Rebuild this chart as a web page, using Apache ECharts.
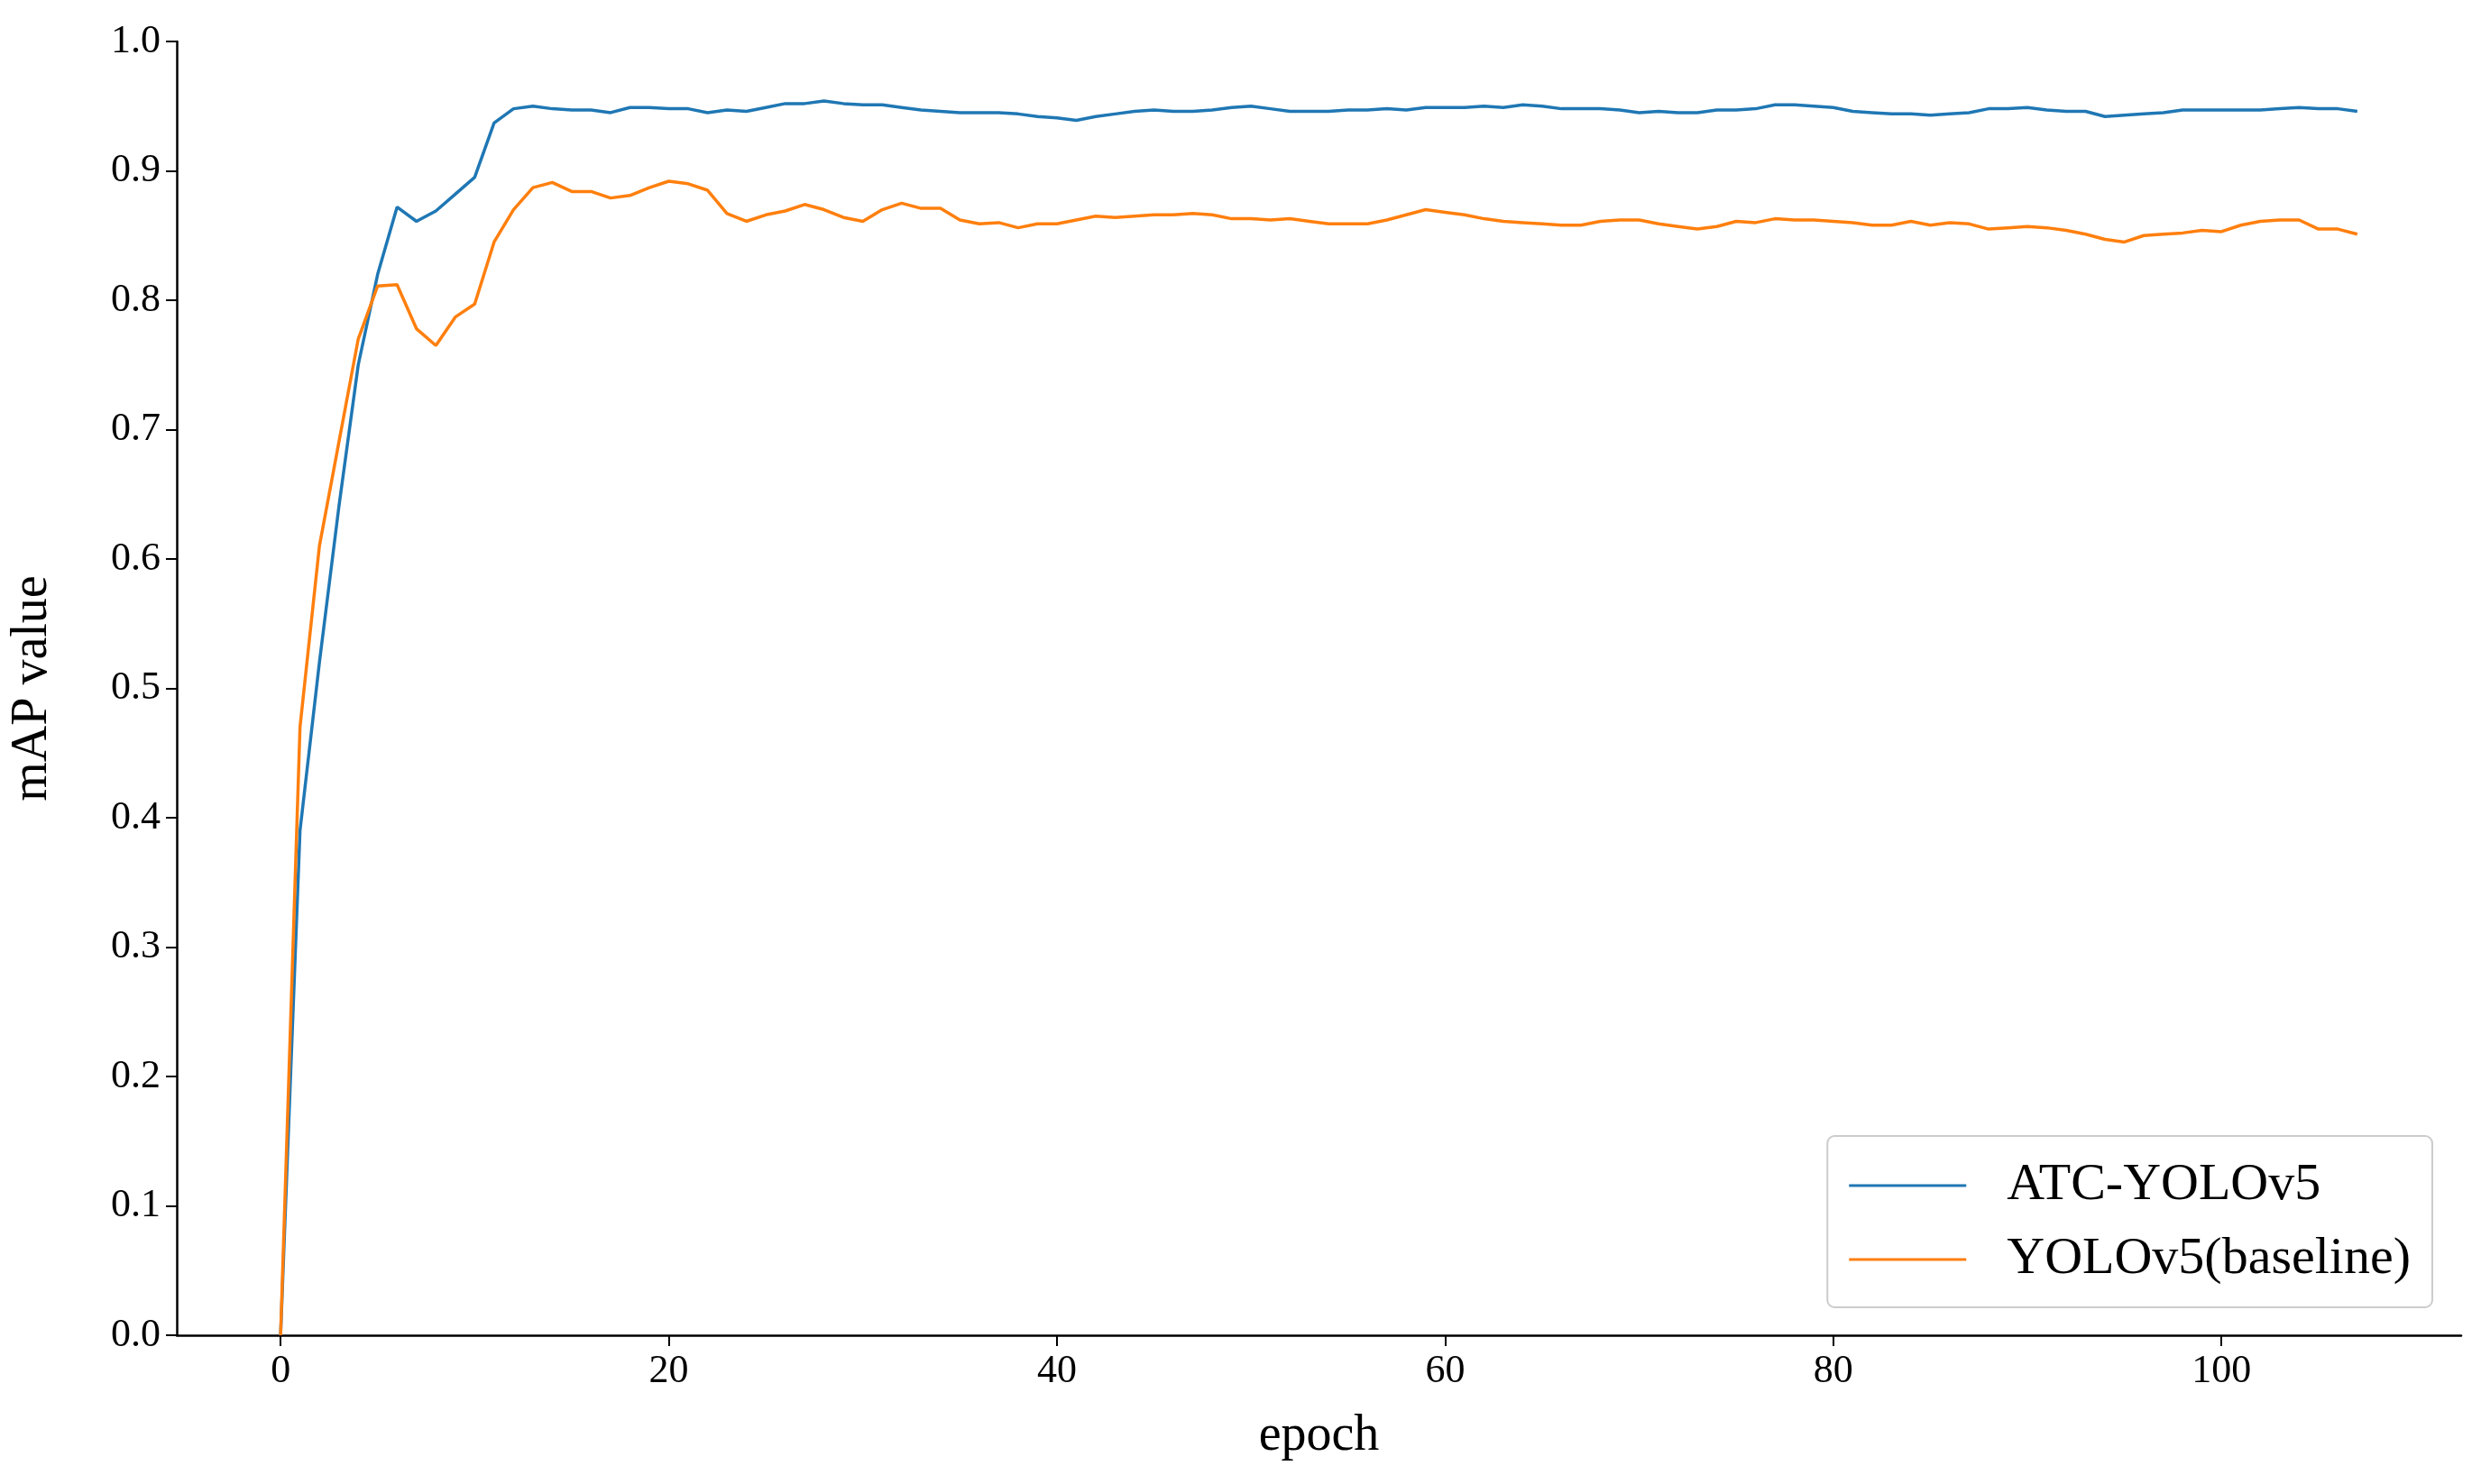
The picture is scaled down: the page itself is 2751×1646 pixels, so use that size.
<!DOCTYPE html>
<html><head><meta charset="utf-8">
<script src="https://cdn.jsdelivr.net/npm/echarts@6/dist/echarts.min.js"></script>
<style>html,body{margin:0;padding:0;background:#fff}#c{width:2751px;height:1646px}</style>
</head><body><div id="c"></div>
<script>
const epochs = Array.from({length:108},(_, i)=>i);
const atcYolo = [0,0.39,0.52,0.64,0.75,0.82,0.872,0.861,0.869,0.882,0.895,0.937,0.948,0.950,0.948,0.947,0.947,0.945,0.949,0.949,0.948,0.948,0.945,0.947,0.946,0.949,0.952,0.952,0.954,0.952,0.951,0.951,0.949,0.947,0.946,0.945,0.945,0.945,0.944,0.942,0.941,0.939,0.942,0.944,0.946,0.947,0.946,0.946,0.947,0.949,0.950,0.948,0.946,0.946,0.946,0.947,0.947,0.948,0.947,0.949,0.949,0.949,0.950,0.949,0.951,0.950,0.948,0.948,0.948,0.947,0.945,0.946,0.945,0.945,0.947,0.947,0.948,0.951,0.951,0.950,0.949,0.946,0.945,0.944,0.944,0.943,0.944,0.945,0.948,0.948,0.949,0.947,0.946,0.946,0.942,0.943,0.944,0.945,0.947,0.947,0.947,0.947,0.947,0.948,0.949,0.948,0.948,0.946];
const baseline = [0,0.47,0.61,0.69,0.77,0.811,0.812,0.778,0.765,0.787,0.797,0.845,0.870,0.887,0.891,0.884,0.884,0.879,0.881,0.887,0.892,0.890,0.885,0.867,0.861,0.866,0.869,0.874,0.870,0.864,0.861,0.870,0.875,0.871,0.871,0.862,0.859,0.860,0.856,0.859,0.859,0.862,0.865,0.864,0.865,0.866,0.866,0.867,0.866,0.863,0.863,0.862,0.863,0.861,0.859,0.859,0.859,0.862,0.866,0.870,0.868,0.866,0.863,0.861,0.860,0.859,0.858,0.858,0.861,0.862,0.862,0.859,0.857,0.855,0.857,0.861,0.860,0.863,0.862,0.862,0.861,0.860,0.858,0.858,0.861,0.858,0.860,0.859,0.855,0.856,0.857,0.856,0.854,0.851,0.847,0.845,0.850,0.851,0.852,0.854,0.853,0.858,0.861,0.862,0.862,0.855,0.855,0.851];
const xTicks = [0,20,40,60,80,100];
const yTicks = [0,0.1,0.2,0.3,0.4,0.5,0.6,0.7,0.8,0.9,1.0];
const seriesNames = ['ATC-YOLOv5','YOLOv5(baseline)'];

const font = 'Liberation Serif, Times New Roman, serif';
const chart = echarts.init(document.getElementById('c'));
const pair = a => epochs.map((e,i)=>[e,a[i]]);
chart.setOption({
  animation:false,
  backgroundColor:'#fff',
  grid:{left:185,right:22,top:46,bottom:165},
  legend:{
    right:54,bottom:196,orient:'vertical',
    data:seriesNames,
    icon:'rect',itemWidth:130,itemHeight:3,itemGap:24,
    padding:[26,24,24,24],
    borderColor:'#ccc',borderWidth:2,borderRadius:8,backgroundColor:'rgba(255,255,255,0.8)',
    textStyle:{fontFamily:font,fontSize:58,color:'#000',padding:[0,0,0,40]}
  },
  xAxis:{
    type:'value',min:-5.35,max:112.35,
    name:'epoch',nameLocation:'middle',nameGap:84,
    nameTextStyle:{fontFamily:font,fontSize:56,color:'#000'},
    axisLine:{onZero:false,lineStyle:{color:'#000',width:2.5}},
    axisTick:{show:true,customValues:xTicks,length:12,lineStyle:{color:'#000',width:2}},
    axisLabel:{customValues:xTicks,fontFamily:font,fontSize:44,color:'#000',margin:18},
    splitLine:{show:false}
  },
  yAxis:{
    type:'value',min:0,max:1,interval:0.1,
    name:'mAP value',nameLocation:'middle',nameGap:132,
    nameTextStyle:{fontFamily:font,fontSize:56,color:'#000'},
    axisLine:{show:true,onZero:false,lineStyle:{color:'#000',width:2.5}},
    axisTick:{show:true,length:12,lineStyle:{color:'#000',width:2}},
    axisLabel:{fontFamily:font,fontSize:44,color:'#000',margin:18,formatter:v=>v.toFixed(1)},
    splitLine:{show:false}
  },
  series:[
    {name:seriesNames[0],type:'line',data:pair(atcYolo),showSymbol:false,lineStyle:{color:'#1f77b4',width:3.5},itemStyle:{color:'#1f77b4'}},
    {name:seriesNames[1],type:'line',data:pair(baseline),showSymbol:false,lineStyle:{color:'#ff7f0e',width:3.5},itemStyle:{color:'#ff7f0e'}}
  ]
});
</script></body></html>
